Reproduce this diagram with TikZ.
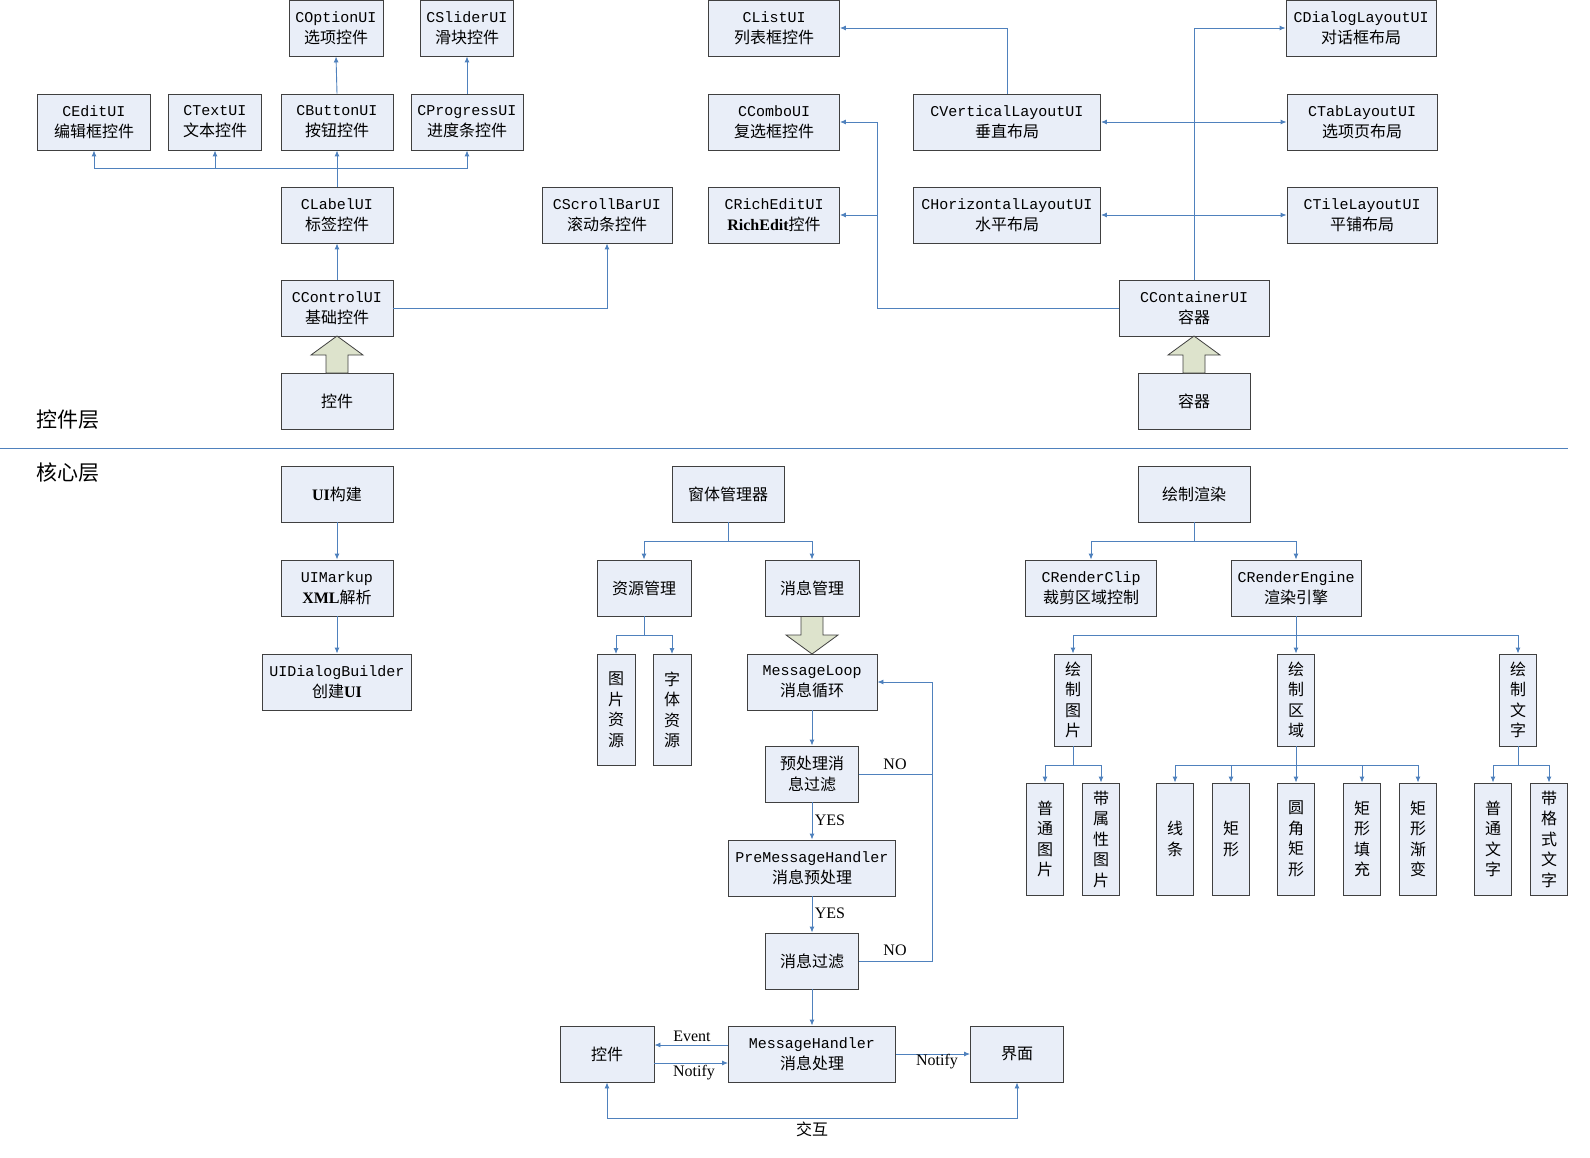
\documentclass[tikz,border=0pt]{standalone}
\usepackage{fontspec}
\setmainfont{Liberation Serif}
\newfontfamily\cjk{Noto Sans CJK SC}
\newfontfamily\mf{Liberation Mono}
\usetikzlibrary{arrows.meta}
\newcommand{\m}[1]{{\mf\fontsize{15}{20}\selectfont #1}}
\definecolor{bfill}{HTML}{E9EEF8}
\definecolor{bdraw}{HTML}{404040}
\definecolor{lblue}{HTML}{4F81BD}
\definecolor{afill}{HTML}{DDE3CC}
\tikzset{
 bx/.style={draw=bdraw,fill=bfill,line width=0.9pt,minimum height=56,inner sep=0pt,align=center,font=\cjk\fontsize{16}{21}\selectfont},
 vt/.style={bx,font=\cjk\fontsize{16}{20.5}\selectfont},
 ln/.style={draw=lblue,line width=0.9pt,-{Latex[length=6pt,width=5pt]}},
 pl/.style={draw=lblue,line width=0.9pt},
 lb/.style={font=\fontsize{16}{18}\selectfont,inner sep=1pt},
 blk/.style={draw=bdraw,fill=afill,line width=0.8pt}
}
\begin{document}
\begin{tikzpicture}[x=1pt,y=-1pt]
\useasboundingbox (0,0) rectangle (1590,1158);
% top-left
\node[bx,minimum width=94] (copt) at (336,28) {\m{COptionUI}\\选项控件};
\node[bx,minimum width=93] (csli) at (467,28) {\m{CSliderUI}\\滑块控件};
\node[bx,minimum width=113] (cedit) at (94,122) {\m{CEditUI}\\编辑框控件};
\node[bx,minimum width=93] (ctext) at (215,122) {\m{CTextUI}\\文本控件};
\node[bx,minimum width=112] (cbtn) at (337,122) {\m{CButtonUI}\\按钮控件};
\node[bx,minimum width=112] (cprog) at (467,122) {\m{CProgressUI}\\进度条控件};
\node[bx,minimum width=112] (clab) at (337,215) {\m{CLabelUI}\\标签控件};
\node[bx,minimum width=130] (cscr) at (607,215) {\m{CScrollBarUI}\\滚动条控件};
\node[bx,minimum width=112] (cctl) at (337,308) {\m{CControlUI}\\基础控件};
\node[bx,minimum width=112] (kj) at (337,401) {控件};
% top-right
\node[bx,minimum width=131] (clist) at (774,28) {\m{CListUI}\\列表框控件};
\node[bx,minimum width=131] (ccombo) at (774,122) {\m{CComboUI}\\复选框控件};
\node[bx,minimum width=131] (crich) at (774,215) {\m{CRichEditUI}\\\textbf{\fontspec{Liberation Serif}RichEdit}控件};
\node[bx,minimum width=187] (cvert) at (1007,122) {\m{CVerticalLayoutUI}\\垂直布局};
\node[bx,minimum width=187] (chor) at (1007,215) {\m{CHorizontalLayoutUI}\\水平布局};
\node[bx,minimum width=150] (cdlg) at (1361,28) {\m{CDialogLayoutUI}\\对话框布局};
\node[bx,minimum width=150] (ctab) at (1362,122) {\m{CTabLayoutUI}\\选项页布局};
\node[bx,minimum width=150] (ctile) at (1362,215) {\m{CTileLayoutUI}\\平铺布局};
\node[bx,minimum width=150] (ccont) at (1194,308) {\m{CContainerUI}\\容器};
\node[bx,minimum width=112] (rq) at (1194,401) {容器};
% block arrows
\foreach \cx in {337,1194}{
 \draw[blk] (\cx-11,373) -- (\cx-11,355) -- (\cx-26,355) -- (\cx,336) -- (\cx+26,355) -- (\cx+11,355) -- (\cx+11,373) -- cycle;}
\draw[blk] (801,616) -- (801,635) -- (786,635) -- (812,654) -- (838,635) -- (823,635) -- (823,616) -- cycle;
% top connectors
\draw[ln] (cbtn.north) -- (copt.south);
\draw[ln] (cprog.north) -- (csli.south);
\draw[ln] (clab.north) -- (cbtn.south);
\coordinate (j1) at (337,168);
\draw[ln] (j1) -| (cedit.south);
\draw[ln] (j1) -| (cprog.south);
\draw[ln] (ctext.south|-j1) -- (ctext.south);
\draw[ln] (cctl.north) -- (clab.south);
\draw[ln] (cctl.east) -| (cscr.south);
\coordinate (j2) at (877,308);
\draw[ln] (ccont.west) -- (j2) |- (ccombo.east);
\draw[ln] (j2|-crich.east) -- (crich.east);
\draw[ln] (ccont.north) |- (cdlg.west);
\draw[ln] (ccont.north|-cvert.east) -- (cvert.east);
\draw[ln] (ccont.north|-ctab.west) -- (ctab.west);
\draw[ln] (ccont.north|-chor.east) -- (chor.east);
\draw[ln] (ccont.north|-ctile.west) -- (ctile.west);
\draw[ln] (cvert.north) |- (clist.east);
% divider
\draw[lblue,line width=1pt] (0,448) -- (1568,448);
\node[font=\cjk\fontsize{21}{24}\selectfont,anchor=west] (l1) at (33,420) {控件层};
\node[font=\cjk\fontsize{21}{24}\selectfont,anchor=west] (l2) at (33,473) {核心层};
% core left
\node[bx,minimum width=112] (uib) at (337,494) {\textbf{\fontspec{Liberation Serif}UI}构建};
\node[bx,minimum width=112] (uim) at (337,588) {\m{UIMarkup}\\\textbf{\fontspec{Liberation Serif}XML}解析};
\node[bx,minimum width=149] (uid) at (337,682) {\m{UIDialogBuilder}\\创建\textbf{\fontspec{Liberation Serif}UI}};
\draw[ln] (uib.south) -- (uim.north);
\draw[ln] (uim.south) -- (uid.north);
% core middle
\node[bx,minimum width=112] (wnd) at (728,494) {窗体管理器};
\node[bx,minimum width=94] (res) at (644,588) {资源管理};
\node[bx,minimum width=94] (msg) at (812,588) {消息管理};
\node[vt,minimum width=38,minimum height=111] (tp) at (616,710) {图\\片\\资\\源};
\node[vt,minimum width=38,minimum height=111] (zt) at (672,710) {字\\体\\资\\源};
\node[bx,minimum width=130] (mloop) at (812,682) {\m{MessageLoop}\\消息循环};
\node[bx,minimum width=93] (pre) at (812,774) {预处理消\\息过滤};
\node[bx,minimum width=167] (pmh) at (812,868) {\m{PreMessageHandler}\\消息预处理};
\node[bx,minimum width=93] (filt) at (812,961) {消息过滤};
\node[bx,minimum width=167] (mh) at (812,1054) {\m{MessageHandler}\\消息处理};
\node[bx,minimum width=94] (ctl) at (607,1054) {控件};
\node[bx,minimum width=93] (ui) at (1017,1054) {界面};
\coordinate (j3) at (728,541);
\draw[pl] (wnd.south) -- (j3);
\draw[ln] (j3) -| (res.north);
\draw[ln] (j3) -| (msg.north);
\coordinate (j4) at (644,635);
\draw[pl] (res.south) -- (j4);
\draw[ln] (j4) -| (tp.north);
\draw[ln] (j4) -| (zt.north);
\draw[ln] (mloop.south) -- (pre.north);
\coordinate (k) at (932,682);
\draw[ln] (pre.east) -| (k) -- (mloop.east);
\draw[pl] (filt.east) -| (k);
\draw[ln] (pre.south) -- (pmh.north);
\draw[ln] (pmh.south) -- (filt.north);
\draw[ln] (filt.south) -- (mh.north);
\draw[ln] ([yshift=9pt]mh.west) -- ([yshift=9pt]ctl.east);
\draw[ln] ([yshift=-9pt]ctl.east) -- ([yshift=-9pt]mh.west);
\draw[ln] (mh.east) -- (ui.west);
\coordinate (b) at (812,1118);
\draw[draw=lblue,line width=0.9pt,{Latex[length=6pt,width=5pt]}-{Latex[length=6pt,width=5pt]}] (ctl.south) |- (b) -| (ui.south);
\node[lb] (no1) at (895,764) {NO};
\node[lb] (no2) at (895,950) {NO};
\node[lb] (yes1) at (830,820) {YES};
\node[lb] (yes2) at (830,913) {YES};
\node[lb] (ev) at (692,1036) {Event};
\node[lb] (nt1) at (694,1073) {Notify};
\node[lb] (nt2) at (937,1062) {Notify};
\node[font=\cjk\fontsize{16}{18}\selectfont] (hx) at (812,1129) {交互};
% render
\node[bx,minimum width=112] (draw) at (1194,494) {绘制渲染};
\node[bx,minimum width=131] (clip) at (1091,588) {\m{CRenderClip}\\裁剪区域控制};
\node[bx,minimum width=130] (eng) at (1296,588) {\m{CRenderEngine}\\渲染引擎};
\node[vt,minimum width=37,minimum height=92] (hp) at (1073,700) {绘\\制\\图\\片};
\node[vt,minimum width=37,minimum height=92] (hq) at (1296,700) {绘\\制\\区\\域};
\node[vt,minimum width=37,minimum height=92] (hw) at (1518,700) {绘\\制\\文\\字};
\node[vt,minimum width=37,minimum height=112] (p1) at (1045,839) {普\\通\\图\\片};
\node[vt,minimum width=37,minimum height=112] (p2) at (1101,839) {带\\属\\性\\图\\片};
\node[vt,minimum width=37,minimum height=112] (q1) at (1175,839) {线\\条};
\node[vt,minimum width=37,minimum height=112] (q2) at (1231,839) {矩\\形};
\node[vt,minimum width=37,minimum height=112] (q3) at (1296,839) {圆\\角\\矩\\形};
\node[vt,minimum width=37,minimum height=112] (q4) at (1362,839) {矩\\形\\填\\充};
\node[vt,minimum width=37,minimum height=112] (q5) at (1418,839) {矩\\形\\渐\\变};
\node[vt,minimum width=37,minimum height=112] (w1) at (1493,839) {普\\通\\文\\字};
\node[vt,minimum width=37,minimum height=112] (w2) at (1549,839) {带\\格\\式\\文\\字};
\coordinate (r1) at (1194,541);
\draw[pl] (draw.south) -- (r1);
\draw[ln] (r1) -| (clip.north);
\draw[ln] (r1) -| (eng.north);
\coordinate (r2) at (1296,635);
\draw[ln] (eng.south) -- (hq.north);
\draw[ln] (r2) -| (hp.north);
\draw[ln] (r2) -| (hw.north);
\coordinate (r3) at (1073,765);
\draw[pl] (hp.south) -- (r3);
\draw[ln] (r3) -| (p1.north);
\draw[ln] (r3) -| (p2.north);
\coordinate (r4) at (1296,765);
\draw[ln] (hq.south) -- (q3.north);
\foreach \n in {q1,q2,q4,q5} \draw[ln] (r4) -| (\n.north);
\coordinate (r5) at (1518,765);
\draw[pl] (hw.south) -- (r5);
\draw[ln] (r5) -| (w1.north);
\draw[ln] (r5) -| (w2.north);
\end{tikzpicture}
\end{document}
